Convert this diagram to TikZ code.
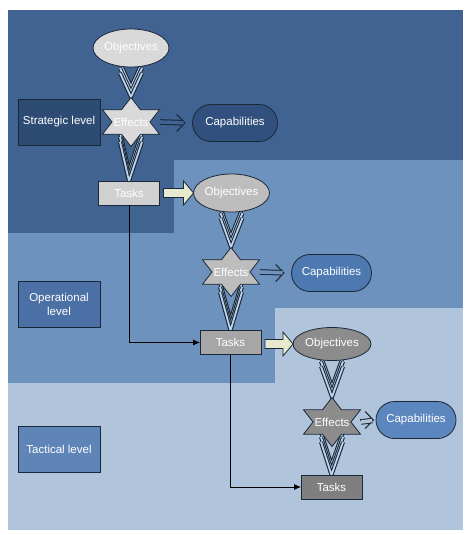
\documentclass[tikz,border=0pt]{standalone}
\usepackage{fontspec}
\setmainfont{Liberation Sans}
\usetikzlibrary{calc,arrows.meta,shapes.geometric}
\pgfdeclarelayer{background}
\pgfsetlayers{background,main}

\definecolor{strbg}{HTML}{406391}
\definecolor{opbg}{HTML}{6E92BE}
\definecolor{tacbg}{HTML}{B0C4DC}
\definecolor{edge}{HTML}{1B2838}
\definecolor{lvlS}{HTML}{2E4B73}
\definecolor{lvlO}{HTML}{4A70A5}
\definecolor{lvlT}{HTML}{5F84B8}
\definecolor{capS}{HTML}{32507D}
\definecolor{capO}{HTML}{4D78B0}
\definecolor{capT}{HTML}{5B86BE}
\definecolor{gryS}{HTML}{D9D9D9}
\definecolor{gryO}{HTML}{BDBDBD}
\definecolor{gryT}{HTML}{8C8C8C}
\definecolor{tskS}{HTML}{D0D0D0}
\definecolor{tskO}{HTML}{A6A6A6}
\definecolor{tskT}{HTML}{7F7F7F}
\definecolor{chevfill}{HTML}{BCD3EC}
\definecolor{blockfill}{HTML}{E8EACF}

\tikzset{
  lbl/.style={font=\fontsize{11.5}{13.5}\selectfont, text=white, inner sep=0pt, outer sep=0pt, align=center},
  lvlbox/.style={lbl, draw=edge, line width=0.8pt, fill=#1, minimum width=82pt, minimum height=46pt},
  objectives/.style={lbl, ellipse, draw=edge, line width=0.8pt, fill=#1},
  capab/.style={lbl, draw=edge, line width=0.8pt, fill=#1, minimum width=80pt, minimum height=37pt, rounded corners=18.5pt},
  tasks/.style={lbl, draw=edge, line width=0.8pt, fill=#1, minimum width=61pt, minimum height=24pt},
  effects/.style={lbl, minimum width=58pt, minimum height=50pt},
  chevdark/.style={draw=edge, line width=4pt, line join=miter},
  chevlight/.style={draw=chevfill, line width=1.8pt, line join=miter},
  impl/.style={draw=edge, line width=1pt, double distance=3.6pt, shorten >=#1},
  impltip/.style={draw=edge, line width=1.1pt, -{Straight Barb[length=8pt,width=17pt]}, shorten >=#1},
  blockarr/.style={fill=blockfill, draw=edge, line width=0.8pt},
  conn/.style={draw=black, line width=0.8pt, -{Latex[length=7pt,width=6pt]}}
}

% six point star behind node #1
\newcommand{\effstar}[2]{%
  \filldraw[fill=#2, draw=edge, line width=0.8pt, shift={(#1.center)}]
    (90:32.9pt and 24.5pt)
    \foreach \a/\rx/\ry in {60/19/14.1, 30/32.9/24.5, 0/19/14.1, -30/32.9/24.5, -60/19/14.1,
      -90/32.9/24.5, -120/19/14.1, -150/32.9/24.5, 180/19/14.1, 150/32.9/24.5, 120/19/14.1}
    { -- (\a:\rx pt and \ry pt) } -- cycle;
}

% chevrons from #1 down to #2
\newcommand{\chevrons}[3]{%
  \foreach \k in {0,5,10} {
    \draw[chevdark] ($(#1.south)+(-11,\k-#3)$) -- ($(#2.north)+(0,\k-10)$) -- ($(#1.south)+(11,\k-#3)$);
    \draw[chevlight] ($(#1.south)+(-11,\k-#3)$) -- ($(#2.north)+(0,\k-10)$) -- ($(#1.south)+(11,\k-#3)$);
  }
}

% double arrow from #1 to #2, gap #3, background #4
\newcommand{\implarrow}[4]{%
  \draw[impltip=#3] ($(#2.west)+(-16,0)$) -- (#2.west);
  \draw[impl=#3+1.8pt, double=#4] (#1.east) -- (#2.west);
}

% block arrow from #1 to #2
\newcommand{\blockarrow}[2]{%
  \filldraw[blockarr] ($(#1.east |- #2.west)+(4,-4.5)$) -- ($(#2.west)+(-10,-4.5)$)
    -- ($(#2.west)+(-10,-12)$) -- (#2.west) -- ($(#2.west)+(-10,12)$)
    -- ($(#2.west)+(-10,4.5)$) -- ($(#1.east |- #2.west)+(4,4.5)$) -- cycle;
}

\begin{document}
\begin{tikzpicture}[x=1pt, y=-1pt]
  \useasboundingbox (0,0) rectangle (474,535);

  % Levels
  \begin{pgfonlayer}{background}
    \fill[white] (0,0) rectangle (474,535);
    \fill[tacbg] (8,10) rectangle (463,530);
    \fill[opbg] (8,10) rectangle (463,308);
    \fill[opbg] (8,10) rectangle (275,383);
    \fill[strbg] (8,10) rectangle (463,160);
    \fill[strbg] (8,10) rectangle (174,233);
  \end{pgfonlayer}

  \node[lvlbox=lvlS] (strat) at (59,122) {Strategic level};
  \node[lvlbox=lvlO] (oper) at (59,304.5) {Operational\\level};
  \node[lvlbox=lvlT] (tact) at (59,449) {Tactical level};

  % Strategic
  \node[objectives=gryS, minimum width=70pt, minimum height=38pt] (ob1) at (131,48) {Objectives};
  \node[effects] (ef1) at (131,122) {Effects};
  \node[capab=capS, minimum width=85pt] (cp1) at (235,123) {Capabilities};
  \node[tasks=tskS] (tk1) at (129,193) {Tasks};

  % Operational
  \node[objectives=gryO, minimum width=71pt, minimum height=38pt] (ob2) at (231.5,193) {Objectives};
  \node[effects] (ef2) at (231,272) {Effects};
  \node[capab=capO] (cp2) at (331.5,273) {Capabilities};
  \node[tasks=tskO] (tk2) at (230.5,342.5) {Tasks};

  % Tactical
  \node[objectives=gryT, minimum width=78pt, minimum height=33pt] (ob3) at (332,344) {Objectives};
  \node[effects] (ef3) at (332,422) {Effects};
  \node[capab=capT] (cp3) at (416,420) {Capabilities};
  \node[tasks=tskT] (tk3) at (331.5,487) {Tasks};

  % Chevrons and stars
  \begin{pgfonlayer}{background}
    \chevrons{ob1}{ef1}{4}
    \chevrons{ef1}{tk1}{15}
    \chevrons{ob2}{ef2}{4}
    \chevrons{ef2}{tk2}{15}
    \chevrons{ob3}{ef3}{4}
    \chevrons{ef3}{tk3}{15}
    \effstar{ef1}{gryS}
    \effstar{ef2}{gryO}
    \effstar{ef3}{gryT}
  \end{pgfonlayer}

  % Effects to capabilities
  \implarrow{ef1}{cp1}{7pt}{strbg}
  \implarrow{ef2}{cp2}{7pt}{opbg}
  \implarrow{ef3}{cp3}{2pt}{tacbg}

  % Tasks to next level
  \blockarrow{tk1}{ob2}
  \blockarrow{tk2}{ob3}
  \draw[conn] (tk1.south) |- (tk2.west);
  \draw[conn] (tk2.south) |- (tk3.west);
\end{tikzpicture}
\end{document}
